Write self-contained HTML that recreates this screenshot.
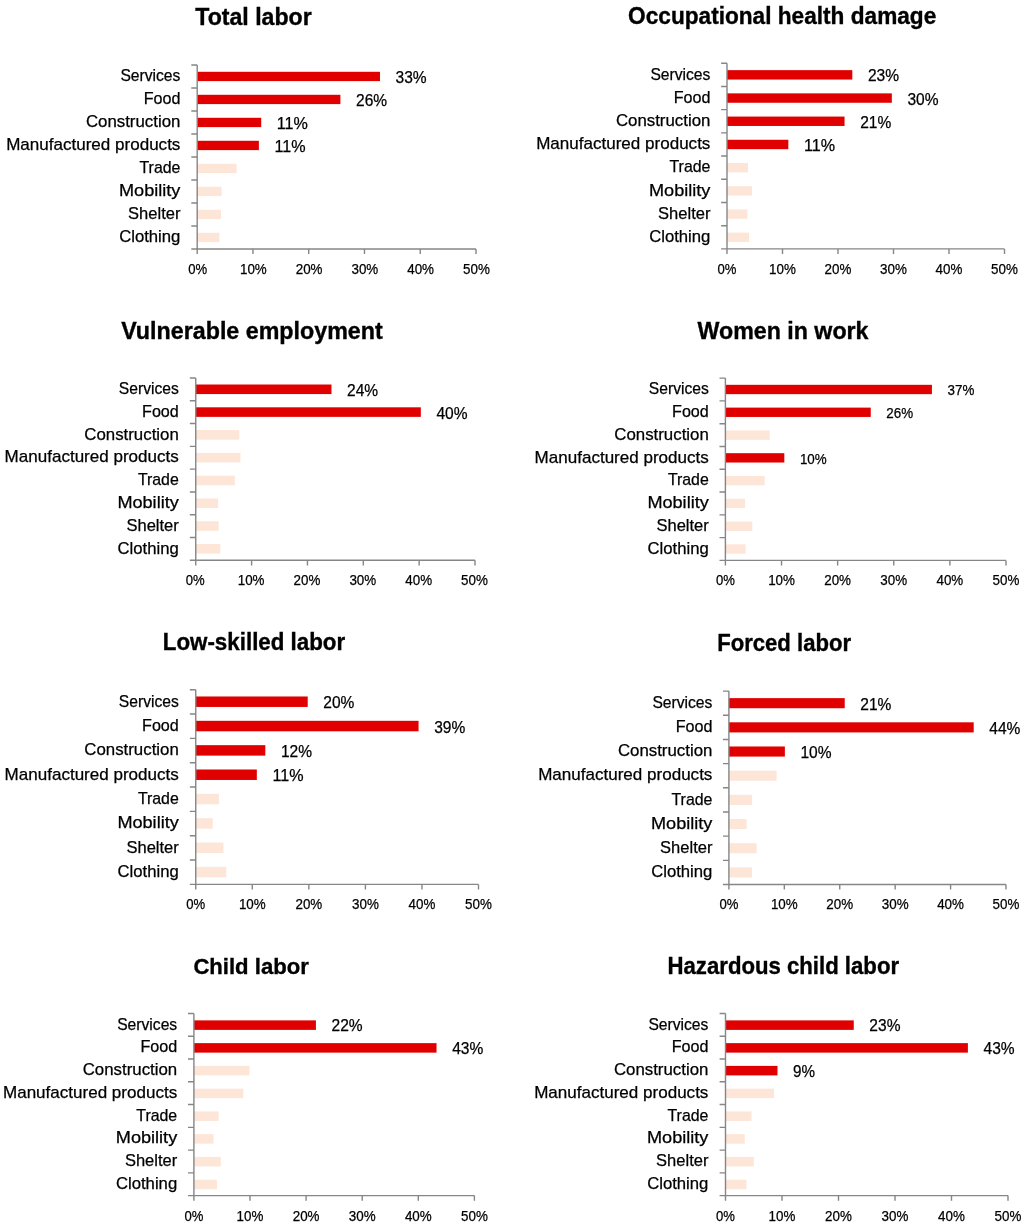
<!DOCTYPE html>
<html lang="en"><head><meta charset="utf-8"><title>Labor footprint by consumption category</title>
<style>
html,body{margin:0;padding:0;background:#fff}
body{width:1024px;height:1225px;overflow:hidden}
svg{display:block}
text{font-family:"Liberation Sans",sans-serif;fill:#000;stroke:#000;stroke-width:0.25px}
text.b{font-weight:bold;stroke:#000;stroke-width:0.35px}
</style></head><body>
<svg width="1024" height="1225" viewBox="0 0 1024 1225">
<rect width="1024" height="1225" fill="#fff"/>
<g><text class="b" x="253.50" y="25.30" font-size="23.52" text-anchor="middle" textLength="116.46" lengthAdjust="spacingAndGlyphs">Total labor</text>
<rect x="197.20" y="71.79" width="182.78" height="9.32" fill="#e00000"/>
<text class="r" x="180.40" y="81.17" font-size="16.20" text-anchor="end" textLength="60.01" lengthAdjust="spacingAndGlyphs">Services</text>
<text class="r" x="395.58" y="82.98" font-size="16.20" text-anchor="start" textLength="31.11" lengthAdjust="spacingAndGlyphs">33%</text>
<rect x="197.20" y="94.79" width="143.19" height="9.32" fill="#e00000"/>
<text class="r" x="180.40" y="104.17" font-size="16.20" text-anchor="end" textLength="36.76" lengthAdjust="spacingAndGlyphs">Food</text>
<text class="r" x="355.99" y="105.98" font-size="16.20" text-anchor="start" textLength="31.11" lengthAdjust="spacingAndGlyphs">26%</text>
<rect x="197.20" y="117.79" width="64.01" height="9.32" fill="#e00000"/>
<text class="r" x="180.40" y="127.17" font-size="16.20" text-anchor="end" textLength="94.49" lengthAdjust="spacingAndGlyphs">Construction</text>
<text class="r" x="276.81" y="128.98" font-size="16.20" text-anchor="start" textLength="31.11" lengthAdjust="spacingAndGlyphs">11%</text>
<rect x="197.20" y="140.79" width="61.67" height="9.32" fill="#e00000"/>
<text class="r" x="180.40" y="150.17" font-size="16.20" text-anchor="end" textLength="174.22" lengthAdjust="spacingAndGlyphs">Manufactured products</text>
<text class="r" x="274.47" y="151.98" font-size="16.20" text-anchor="start" textLength="31.11" lengthAdjust="spacingAndGlyphs">11%</text>
<rect x="197.20" y="163.79" width="39.42" height="9.32" fill="#fde5d8"/>
<text class="r" x="180.40" y="173.17" font-size="16.20" text-anchor="end" textLength="40.92" lengthAdjust="spacingAndGlyphs">Trade</text>
<rect x="197.20" y="186.79" width="24.42" height="9.32" fill="#fde5d8"/>
<text class="r" x="180.40" y="196.17" font-size="16.20" text-anchor="end" textLength="61.40" lengthAdjust="spacingAndGlyphs">Mobility</text>
<rect x="197.20" y="209.79" width="23.81" height="9.32" fill="#fde5d8"/>
<text class="r" x="180.40" y="219.17" font-size="16.20" text-anchor="end" textLength="52.30" lengthAdjust="spacingAndGlyphs">Shelter</text>
<rect x="197.20" y="232.79" width="22.19" height="9.32" fill="#fde5d8"/>
<text class="r" x="180.40" y="242.17" font-size="16.20" text-anchor="end" textLength="61.25" lengthAdjust="spacingAndGlyphs">Clothing</text>
<path d="M197.20 64.95V248.95H476.00M191.30 64.95H197.20M191.30 87.95H197.20M191.30 110.95H197.20M191.30 133.95H197.20M191.30 156.95H197.20M191.30 179.95H197.20M191.30 202.95H197.20M191.30 225.95H197.20M191.30 248.95H197.20M197.20 248.95V254.05M252.96 248.95V254.05M308.72 248.95V254.05M364.48 248.95V254.05M420.24 248.95V254.05M476.00 248.95V254.05" stroke="#868686" stroke-width="1.4" fill="none"/>
<text class="r" x="197.60" y="273.85" font-size="14.26" text-anchor="middle" textLength="18.94" lengthAdjust="spacingAndGlyphs">0%</text>
<text class="r" x="253.36" y="273.85" font-size="14.26" text-anchor="middle" textLength="26.79" lengthAdjust="spacingAndGlyphs">10%</text>
<text class="r" x="309.12" y="273.85" font-size="14.26" text-anchor="middle" textLength="26.79" lengthAdjust="spacingAndGlyphs">20%</text>
<text class="r" x="364.88" y="273.85" font-size="14.26" text-anchor="middle" textLength="26.79" lengthAdjust="spacingAndGlyphs">30%</text>
<text class="r" x="420.64" y="273.85" font-size="14.26" text-anchor="middle" textLength="26.79" lengthAdjust="spacingAndGlyphs">40%</text>
<text class="r" x="476.40" y="273.85" font-size="14.26" text-anchor="middle" textLength="26.79" lengthAdjust="spacingAndGlyphs">50%</text></g>
<g><text class="b" x="782.20" y="23.85" font-size="23.13" text-anchor="middle" textLength="308.18" lengthAdjust="spacingAndGlyphs">Occupational health damage</text>
<rect x="727.00" y="70.15" width="125.32" height="9.4" fill="#e00000"/>
<text class="r" x="710.40" y="79.57" font-size="16.20" text-anchor="end" textLength="60.01" lengthAdjust="spacingAndGlyphs">Services</text>
<text class="r" x="867.92" y="81.38" font-size="16.20" text-anchor="start" textLength="31.11" lengthAdjust="spacingAndGlyphs">23%</text>
<rect x="727.00" y="93.36" width="164.83" height="9.4" fill="#e00000"/>
<text class="r" x="710.40" y="102.78" font-size="16.20" text-anchor="end" textLength="36.76" lengthAdjust="spacingAndGlyphs">Food</text>
<text class="r" x="907.44" y="104.59" font-size="16.20" text-anchor="start" textLength="31.11" lengthAdjust="spacingAndGlyphs">30%</text>
<rect x="727.00" y="116.57" width="117.55" height="9.4" fill="#e00000"/>
<text class="r" x="710.40" y="125.98" font-size="16.20" text-anchor="end" textLength="94.49" lengthAdjust="spacingAndGlyphs">Construction</text>
<text class="r" x="860.15" y="127.80" font-size="16.20" text-anchor="start" textLength="31.11" lengthAdjust="spacingAndGlyphs">21%</text>
<rect x="727.00" y="139.77" width="61.33" height="9.4" fill="#e00000"/>
<text class="r" x="710.40" y="149.19" font-size="16.20" text-anchor="end" textLength="174.22" lengthAdjust="spacingAndGlyphs">Manufactured products</text>
<text class="r" x="803.93" y="151.00" font-size="16.20" text-anchor="start" textLength="31.11" lengthAdjust="spacingAndGlyphs">11%</text>
<rect x="727.00" y="162.98" width="20.98" height="9.4" fill="#fde5d8"/>
<text class="r" x="710.40" y="172.39" font-size="16.20" text-anchor="end" textLength="40.92" lengthAdjust="spacingAndGlyphs">Trade</text>
<rect x="727.00" y="186.18" width="24.97" height="9.4" fill="#fde5d8"/>
<text class="r" x="710.40" y="195.60" font-size="16.20" text-anchor="end" textLength="61.40" lengthAdjust="spacingAndGlyphs">Mobility</text>
<rect x="727.00" y="209.39" width="20.42" height="9.4" fill="#fde5d8"/>
<text class="r" x="710.40" y="218.81" font-size="16.20" text-anchor="end" textLength="52.30" lengthAdjust="spacingAndGlyphs">Shelter</text>
<rect x="727.00" y="232.60" width="22.14" height="9.4" fill="#fde5d8"/>
<text class="r" x="710.40" y="242.01" font-size="16.20" text-anchor="end" textLength="61.25" lengthAdjust="spacingAndGlyphs">Clothing</text>
<path d="M727.00 63.25V248.90H1004.50M721.10 63.25H727.00M721.10 86.46H727.00M721.10 109.66H727.00M721.10 132.87H727.00M721.10 156.07H727.00M721.10 179.28H727.00M721.10 202.49H727.00M721.10 225.69H727.00M721.10 248.90H727.00M727.00 248.90V254.00M782.50 248.90V254.00M838.00 248.90V254.00M893.50 248.90V254.00M949.00 248.90V254.00M1004.50 248.90V254.00" stroke="#868686" stroke-width="1.4" fill="none"/>
<text class="r" x="727.00" y="273.90" font-size="14.26" text-anchor="middle" textLength="18.94" lengthAdjust="spacingAndGlyphs">0%</text>
<text class="r" x="782.50" y="273.90" font-size="14.26" text-anchor="middle" textLength="26.79" lengthAdjust="spacingAndGlyphs">10%</text>
<text class="r" x="838.00" y="273.90" font-size="14.26" text-anchor="middle" textLength="26.79" lengthAdjust="spacingAndGlyphs">20%</text>
<text class="r" x="893.50" y="273.90" font-size="14.26" text-anchor="middle" textLength="26.79" lengthAdjust="spacingAndGlyphs">30%</text>
<text class="r" x="949.00" y="273.90" font-size="14.26" text-anchor="middle" textLength="26.79" lengthAdjust="spacingAndGlyphs">40%</text>
<text class="r" x="1004.50" y="273.90" font-size="14.26" text-anchor="middle" textLength="26.79" lengthAdjust="spacingAndGlyphs">50%</text></g>
<g><text class="b" x="252.00" y="338.65" font-size="23.29" text-anchor="middle" textLength="261.55" lengthAdjust="spacingAndGlyphs">Vulnerable employment</text>
<rect x="195.75" y="384.51" width="135.72" height="9.57" fill="#e00000"/>
<text class="r" x="178.80" y="394.11" font-size="16.20" text-anchor="end" textLength="60.01" lengthAdjust="spacingAndGlyphs">Services</text>
<text class="r" x="347.07" y="395.92" font-size="16.20" text-anchor="start" textLength="31.11" lengthAdjust="spacingAndGlyphs">24%</text>
<rect x="195.75" y="407.30" width="225.08" height="9.57" fill="#e00000"/>
<text class="r" x="178.80" y="416.90" font-size="16.20" text-anchor="end" textLength="36.76" lengthAdjust="spacingAndGlyphs">Food</text>
<text class="r" x="436.43" y="418.71" font-size="16.20" text-anchor="start" textLength="31.11" lengthAdjust="spacingAndGlyphs">40%</text>
<rect x="195.75" y="430.08" width="43.56" height="9.57" fill="#fde5d8"/>
<text class="r" x="178.80" y="439.68" font-size="16.20" text-anchor="end" textLength="94.49" lengthAdjust="spacingAndGlyphs">Construction</text>
<rect x="195.75" y="452.87" width="44.68" height="9.57" fill="#fde5d8"/>
<text class="r" x="178.80" y="462.47" font-size="16.20" text-anchor="end" textLength="174.22" lengthAdjust="spacingAndGlyphs">Manufactured products</text>
<rect x="195.75" y="475.66" width="39.09" height="9.57" fill="#fde5d8"/>
<text class="r" x="178.80" y="485.26" font-size="16.20" text-anchor="end" textLength="40.92" lengthAdjust="spacingAndGlyphs">Trade</text>
<rect x="195.75" y="498.45" width="22.34" height="9.57" fill="#fde5d8"/>
<text class="r" x="178.80" y="508.05" font-size="16.20" text-anchor="end" textLength="61.40" lengthAdjust="spacingAndGlyphs">Mobility</text>
<rect x="195.75" y="521.23" width="22.90" height="9.57" fill="#fde5d8"/>
<text class="r" x="178.80" y="530.83" font-size="16.20" text-anchor="end" textLength="52.30" lengthAdjust="spacingAndGlyphs">Shelter</text>
<rect x="195.75" y="544.02" width="24.57" height="9.57" fill="#fde5d8"/>
<text class="r" x="178.80" y="553.62" font-size="16.20" text-anchor="end" textLength="61.25" lengthAdjust="spacingAndGlyphs">Clothing</text>
<path d="M195.75 378.00V560.30H475.00M189.85 378.00H195.75M189.85 400.79H195.75M189.85 423.57H195.75M189.85 446.36H195.75M189.85 469.15H195.75M189.85 491.94H195.75M189.85 514.72H195.75M189.85 537.51H195.75M189.85 560.30H195.75M195.75 560.30V565.40M251.60 560.30V565.40M307.45 560.30V565.40M363.30 560.30V565.40M419.15 560.30V565.40M475.00 560.30V565.40" stroke="#868686" stroke-width="1.4" fill="none"/>
<text class="r" x="195.25" y="585.20" font-size="14.26" text-anchor="middle" textLength="18.94" lengthAdjust="spacingAndGlyphs">0%</text>
<text class="r" x="251.10" y="585.20" font-size="14.26" text-anchor="middle" textLength="26.79" lengthAdjust="spacingAndGlyphs">10%</text>
<text class="r" x="306.95" y="585.20" font-size="14.26" text-anchor="middle" textLength="26.79" lengthAdjust="spacingAndGlyphs">20%</text>
<text class="r" x="362.80" y="585.20" font-size="14.26" text-anchor="middle" textLength="26.79" lengthAdjust="spacingAndGlyphs">30%</text>
<text class="r" x="418.65" y="585.20" font-size="14.26" text-anchor="middle" textLength="26.79" lengthAdjust="spacingAndGlyphs">40%</text>
<text class="r" x="474.50" y="585.20" font-size="14.26" text-anchor="middle" textLength="26.79" lengthAdjust="spacingAndGlyphs">50%</text></g>
<g><text class="b" x="783.00" y="338.65" font-size="23.11" text-anchor="middle" textLength="170.98" lengthAdjust="spacingAndGlyphs">Women in work</text>
<rect x="725.40" y="384.82" width="206.52" height="9.34" fill="#e00000"/>
<text class="r" x="708.80" y="394.21" font-size="16.20" text-anchor="end" textLength="60.01" lengthAdjust="spacingAndGlyphs">Services</text>
<text class="r" x="947.52" y="395.19" font-size="13.95" text-anchor="start" textLength="26.79" lengthAdjust="spacingAndGlyphs">37%</text>
<rect x="725.40" y="407.61" width="145.35" height="9.34" fill="#e00000"/>
<text class="r" x="708.80" y="417.00" font-size="16.20" text-anchor="end" textLength="36.76" lengthAdjust="spacingAndGlyphs">Food</text>
<text class="r" x="886.35" y="417.97" font-size="13.95" text-anchor="start" textLength="26.79" lengthAdjust="spacingAndGlyphs">26%</text>
<rect x="725.40" y="430.40" width="44.33" height="9.34" fill="#fde5d8"/>
<text class="r" x="708.80" y="439.78" font-size="16.20" text-anchor="end" textLength="94.49" lengthAdjust="spacingAndGlyphs">Construction</text>
<rect x="725.40" y="453.19" width="58.93" height="9.34" fill="#e00000"/>
<text class="r" x="708.80" y="462.57" font-size="16.20" text-anchor="end" textLength="174.22" lengthAdjust="spacingAndGlyphs">Manufactured products</text>
<text class="r" x="799.93" y="463.55" font-size="13.95" text-anchor="start" textLength="26.79" lengthAdjust="spacingAndGlyphs">10%</text>
<rect x="725.40" y="475.97" width="39.28" height="9.34" fill="#fde5d8"/>
<text class="r" x="708.80" y="485.36" font-size="16.20" text-anchor="end" textLength="40.92" lengthAdjust="spacingAndGlyphs">Trade</text>
<rect x="725.40" y="498.76" width="19.64" height="9.34" fill="#fde5d8"/>
<text class="r" x="708.80" y="508.15" font-size="16.20" text-anchor="end" textLength="61.40" lengthAdjust="spacingAndGlyphs">Mobility</text>
<rect x="725.40" y="521.55" width="26.94" height="9.34" fill="#fde5d8"/>
<text class="r" x="708.80" y="530.93" font-size="16.20" text-anchor="end" textLength="52.30" lengthAdjust="spacingAndGlyphs">Shelter</text>
<rect x="725.40" y="544.34" width="20.20" height="9.34" fill="#fde5d8"/>
<text class="r" x="708.80" y="553.72" font-size="16.20" text-anchor="end" textLength="61.25" lengthAdjust="spacingAndGlyphs">Clothing</text>
<path d="M725.40 378.10V560.40H1006.00M719.50 378.10H725.40M719.50 400.89H725.40M719.50 423.68H725.40M719.50 446.46H725.40M719.50 469.25H725.40M719.50 492.04H725.40M719.50 514.83H725.40M719.50 537.61H725.40M719.50 560.40H725.40M725.40 560.40V565.50M781.52 560.40V565.50M837.64 560.40V565.50M893.76 560.40V565.50M949.88 560.40V565.50M1006.00 560.40V565.50" stroke="#868686" stroke-width="1.4" fill="none"/>
<text class="r" x="725.40" y="585.30" font-size="14.26" text-anchor="middle" textLength="18.94" lengthAdjust="spacingAndGlyphs">0%</text>
<text class="r" x="781.52" y="585.30" font-size="14.26" text-anchor="middle" textLength="26.79" lengthAdjust="spacingAndGlyphs">10%</text>
<text class="r" x="837.64" y="585.30" font-size="14.26" text-anchor="middle" textLength="26.79" lengthAdjust="spacingAndGlyphs">20%</text>
<text class="r" x="893.76" y="585.30" font-size="14.26" text-anchor="middle" textLength="26.79" lengthAdjust="spacingAndGlyphs">30%</text>
<text class="r" x="949.88" y="585.30" font-size="14.26" text-anchor="middle" textLength="26.79" lengthAdjust="spacingAndGlyphs">40%</text>
<text class="r" x="1006.00" y="585.30" font-size="14.26" text-anchor="middle" textLength="26.79" lengthAdjust="spacingAndGlyphs">50%</text></g>
<g><text class="b" x="254.00" y="650.10" font-size="23.15" text-anchor="middle" textLength="182.42" lengthAdjust="spacingAndGlyphs">Low-skilled labor</text>
<rect x="195.75" y="696.48" width="111.97" height="10.47" fill="#e00000"/>
<text class="r" x="178.80" y="706.58" font-size="16.20" text-anchor="end" textLength="60.01" lengthAdjust="spacingAndGlyphs">Services</text>
<text class="r" x="323.32" y="708.40" font-size="16.20" text-anchor="start" textLength="31.11" lengthAdjust="spacingAndGlyphs">20%</text>
<rect x="195.75" y="720.82" width="222.81" height="10.47" fill="#e00000"/>
<text class="r" x="178.80" y="730.92" font-size="16.20" text-anchor="end" textLength="36.76" lengthAdjust="spacingAndGlyphs">Food</text>
<text class="r" x="434.16" y="732.74" font-size="16.20" text-anchor="start" textLength="31.11" lengthAdjust="spacingAndGlyphs">39%</text>
<rect x="195.75" y="745.16" width="69.56" height="10.47" fill="#e00000"/>
<text class="r" x="178.80" y="755.26" font-size="16.20" text-anchor="end" textLength="94.49" lengthAdjust="spacingAndGlyphs">Construction</text>
<text class="r" x="280.91" y="757.07" font-size="16.20" text-anchor="start" textLength="31.11" lengthAdjust="spacingAndGlyphs">12%</text>
<rect x="195.75" y="769.50" width="61.07" height="10.47" fill="#e00000"/>
<text class="r" x="178.80" y="779.60" font-size="16.20" text-anchor="end" textLength="174.22" lengthAdjust="spacingAndGlyphs">Manufactured products</text>
<text class="r" x="272.42" y="781.41" font-size="16.20" text-anchor="start" textLength="31.11" lengthAdjust="spacingAndGlyphs">11%</text>
<rect x="195.75" y="793.83" width="23.19" height="10.47" fill="#fde5d8"/>
<text class="r" x="178.80" y="803.93" font-size="16.20" text-anchor="end" textLength="40.92" lengthAdjust="spacingAndGlyphs">Trade</text>
<rect x="195.75" y="818.17" width="16.96" height="10.47" fill="#fde5d8"/>
<text class="r" x="178.80" y="828.27" font-size="16.20" text-anchor="end" textLength="61.40" lengthAdjust="spacingAndGlyphs">Mobility</text>
<rect x="195.75" y="842.51" width="27.71" height="10.47" fill="#fde5d8"/>
<text class="r" x="178.80" y="852.61" font-size="16.20" text-anchor="end" textLength="52.30" lengthAdjust="spacingAndGlyphs">Shelter</text>
<rect x="195.75" y="866.85" width="30.54" height="10.47" fill="#fde5d8"/>
<text class="r" x="178.80" y="876.95" font-size="16.20" text-anchor="end" textLength="61.25" lengthAdjust="spacingAndGlyphs">Clothing</text>
<path d="M195.75 689.70V884.40H478.50M189.85 689.70H195.75M189.85 714.04H195.75M189.85 738.38H195.75M189.85 762.71H195.75M189.85 787.05H195.75M189.85 811.39H195.75M189.85 835.73H195.75M189.85 860.06H195.75M189.85 884.40H195.75M195.75 884.40V889.50M252.30 884.40V889.50M308.85 884.40V889.50M365.40 884.40V889.50M421.95 884.40V889.50M478.50 884.40V889.50" stroke="#868686" stroke-width="1.4" fill="none"/>
<text class="r" x="195.75" y="908.80" font-size="14.26" text-anchor="middle" textLength="18.94" lengthAdjust="spacingAndGlyphs">0%</text>
<text class="r" x="252.30" y="908.80" font-size="14.26" text-anchor="middle" textLength="26.79" lengthAdjust="spacingAndGlyphs">10%</text>
<text class="r" x="308.85" y="908.80" font-size="14.26" text-anchor="middle" textLength="26.79" lengthAdjust="spacingAndGlyphs">20%</text>
<text class="r" x="365.40" y="908.80" font-size="14.26" text-anchor="middle" textLength="26.79" lengthAdjust="spacingAndGlyphs">30%</text>
<text class="r" x="421.95" y="908.80" font-size="14.26" text-anchor="middle" textLength="26.79" lengthAdjust="spacingAndGlyphs">40%</text>
<text class="r" x="478.50" y="908.80" font-size="14.26" text-anchor="middle" textLength="26.79" lengthAdjust="spacingAndGlyphs">50%</text></g>
<g><text class="b" x="784.10" y="651.35" font-size="23.06" text-anchor="middle" textLength="133.85" lengthAdjust="spacingAndGlyphs">Forced labor</text>
<rect x="728.90" y="698.13" width="115.83" height="10.11" fill="#e00000"/>
<text class="r" x="712.40" y="707.90" font-size="16.20" text-anchor="end" textLength="60.01" lengthAdjust="spacingAndGlyphs">Services</text>
<text class="r" x="860.33" y="709.72" font-size="16.20" text-anchor="start" textLength="31.11" lengthAdjust="spacingAndGlyphs">21%</text>
<rect x="728.90" y="722.31" width="244.79" height="10.11" fill="#e00000"/>
<text class="r" x="712.40" y="732.08" font-size="16.20" text-anchor="end" textLength="36.76" lengthAdjust="spacingAndGlyphs">Food</text>
<text class="r" x="989.29" y="733.89" font-size="16.20" text-anchor="start" textLength="31.11" lengthAdjust="spacingAndGlyphs">44%</text>
<rect x="728.90" y="746.48" width="55.97" height="10.11" fill="#e00000"/>
<text class="r" x="712.40" y="756.25" font-size="16.20" text-anchor="end" textLength="94.49" lengthAdjust="spacingAndGlyphs">Construction</text>
<text class="r" x="800.47" y="758.07" font-size="16.20" text-anchor="start" textLength="31.11" lengthAdjust="spacingAndGlyphs">10%</text>
<rect x="728.90" y="770.66" width="47.66" height="10.11" fill="#fde5d8"/>
<text class="r" x="712.40" y="780.43" font-size="16.20" text-anchor="end" textLength="174.22" lengthAdjust="spacingAndGlyphs">Manufactured products</text>
<rect x="728.90" y="794.83" width="23.28" height="10.11" fill="#fde5d8"/>
<text class="r" x="712.40" y="804.60" font-size="16.20" text-anchor="end" textLength="40.92" lengthAdjust="spacingAndGlyphs">Trade</text>
<rect x="728.90" y="819.01" width="17.73" height="10.11" fill="#fde5d8"/>
<text class="r" x="712.40" y="828.78" font-size="16.20" text-anchor="end" textLength="61.40" lengthAdjust="spacingAndGlyphs">Mobility</text>
<rect x="728.90" y="843.18" width="27.71" height="10.11" fill="#fde5d8"/>
<text class="r" x="712.40" y="852.95" font-size="16.20" text-anchor="end" textLength="52.30" lengthAdjust="spacingAndGlyphs">Shelter</text>
<rect x="728.90" y="867.36" width="23.05" height="10.11" fill="#fde5d8"/>
<text class="r" x="712.40" y="877.13" font-size="16.20" text-anchor="end" textLength="61.25" lengthAdjust="spacingAndGlyphs">Clothing</text>
<path d="M728.90 691.10V884.50H1006.00M723.00 691.10H728.90M723.00 715.27H728.90M723.00 739.45H728.90M723.00 763.62H728.90M723.00 787.80H728.90M723.00 811.98H728.90M723.00 836.15H728.90M723.00 860.33H728.90M723.00 884.50H728.90M728.90 884.50V889.60M784.32 884.50V889.60M839.74 884.50V889.60M895.16 884.50V889.60M950.58 884.50V889.60M1006.00 884.50V889.60" stroke="#868686" stroke-width="1.4" fill="none"/>
<text class="r" x="728.90" y="908.70" font-size="14.26" text-anchor="middle" textLength="18.94" lengthAdjust="spacingAndGlyphs">0%</text>
<text class="r" x="784.32" y="908.70" font-size="14.26" text-anchor="middle" textLength="26.79" lengthAdjust="spacingAndGlyphs">10%</text>
<text class="r" x="839.74" y="908.70" font-size="14.26" text-anchor="middle" textLength="26.79" lengthAdjust="spacingAndGlyphs">20%</text>
<text class="r" x="895.16" y="908.70" font-size="14.26" text-anchor="middle" textLength="26.79" lengthAdjust="spacingAndGlyphs">30%</text>
<text class="r" x="950.58" y="908.70" font-size="14.26" text-anchor="middle" textLength="26.79" lengthAdjust="spacingAndGlyphs">40%</text>
<text class="r" x="1006.00" y="908.70" font-size="14.26" text-anchor="middle" textLength="26.79" lengthAdjust="spacingAndGlyphs">50%</text></g>
<g><text class="b" x="251.10" y="974.10" font-size="22.94" text-anchor="middle" textLength="115.42" lengthAdjust="spacingAndGlyphs">Child labor</text>
<rect x="193.90" y="1020.37" width="122.02" height="9.51" fill="#e00000"/>
<text class="r" x="177.20" y="1029.64" font-size="16.20" text-anchor="end" textLength="60.01" lengthAdjust="spacingAndGlyphs">Services</text>
<text class="r" x="331.52" y="1031.46" font-size="16.20" text-anchor="start" textLength="31.11" lengthAdjust="spacingAndGlyphs">22%</text>
<rect x="193.90" y="1043.13" width="242.63" height="9.51" fill="#e00000"/>
<text class="r" x="177.20" y="1052.40" font-size="16.20" text-anchor="end" textLength="36.76" lengthAdjust="spacingAndGlyphs">Food</text>
<text class="r" x="452.13" y="1054.21" font-size="16.20" text-anchor="start" textLength="31.11" lengthAdjust="spacingAndGlyphs">43%</text>
<rect x="193.90" y="1065.89" width="55.54" height="9.51" fill="#fde5d8"/>
<text class="r" x="177.20" y="1075.16" font-size="16.20" text-anchor="end" textLength="94.49" lengthAdjust="spacingAndGlyphs">Construction</text>
<rect x="193.90" y="1088.64" width="49.37" height="9.51" fill="#fde5d8"/>
<text class="r" x="177.20" y="1097.91" font-size="16.20" text-anchor="end" textLength="174.22" lengthAdjust="spacingAndGlyphs">Manufactured products</text>
<rect x="193.90" y="1111.40" width="24.68" height="9.51" fill="#fde5d8"/>
<text class="r" x="177.20" y="1120.67" font-size="16.20" text-anchor="end" textLength="40.92" lengthAdjust="spacingAndGlyphs">Trade</text>
<rect x="193.90" y="1134.15" width="19.64" height="9.51" fill="#fde5d8"/>
<text class="r" x="177.20" y="1143.43" font-size="16.20" text-anchor="end" textLength="61.40" lengthAdjust="spacingAndGlyphs">Mobility</text>
<rect x="193.90" y="1156.91" width="26.93" height="9.51" fill="#fde5d8"/>
<text class="r" x="177.20" y="1166.18" font-size="16.20" text-anchor="end" textLength="52.30" lengthAdjust="spacingAndGlyphs">Shelter</text>
<rect x="193.90" y="1179.67" width="23.00" height="9.51" fill="#fde5d8"/>
<text class="r" x="177.20" y="1188.94" font-size="16.20" text-anchor="end" textLength="61.25" lengthAdjust="spacingAndGlyphs">Clothing</text>
<path d="M193.90 1013.55V1195.60H474.40M188.00 1013.55H193.90M188.00 1036.31H193.90M188.00 1059.06H193.90M188.00 1081.82H193.90M188.00 1104.57H193.90M188.00 1127.33H193.90M188.00 1150.09H193.90M188.00 1172.84H193.90M188.00 1195.60H193.90M193.90 1195.60V1200.70M250.00 1195.60V1200.70M306.10 1195.60V1200.70M362.20 1195.60V1200.70M418.30 1195.60V1200.70M474.40 1195.60V1200.70" stroke="#868686" stroke-width="1.4" fill="none"/>
<text class="r" x="193.90" y="1220.70" font-size="14.26" text-anchor="middle" textLength="18.94" lengthAdjust="spacingAndGlyphs">0%</text>
<text class="r" x="250.00" y="1220.70" font-size="14.26" text-anchor="middle" textLength="26.79" lengthAdjust="spacingAndGlyphs">10%</text>
<text class="r" x="306.10" y="1220.70" font-size="14.26" text-anchor="middle" textLength="26.79" lengthAdjust="spacingAndGlyphs">20%</text>
<text class="r" x="362.20" y="1220.70" font-size="14.26" text-anchor="middle" textLength="26.79" lengthAdjust="spacingAndGlyphs">30%</text>
<text class="r" x="418.30" y="1220.70" font-size="14.26" text-anchor="middle" textLength="26.79" lengthAdjust="spacingAndGlyphs">40%</text>
<text class="r" x="474.40" y="1220.70" font-size="14.26" text-anchor="middle" textLength="26.79" lengthAdjust="spacingAndGlyphs">50%</text></g>
<g><text class="b" x="783.30" y="973.80" font-size="23.06" text-anchor="middle" textLength="231.56" lengthAdjust="spacingAndGlyphs">Hazardous child labor</text>
<rect x="725.50" y="1020.37" width="128.25" height="9.51" fill="#e00000"/>
<text class="r" x="708.40" y="1029.64" font-size="16.20" text-anchor="end" textLength="60.01" lengthAdjust="spacingAndGlyphs">Services</text>
<text class="r" x="869.36" y="1031.46" font-size="16.20" text-anchor="start" textLength="31.11" lengthAdjust="spacingAndGlyphs">23%</text>
<rect x="725.50" y="1043.13" width="242.39" height="9.51" fill="#e00000"/>
<text class="r" x="708.40" y="1052.40" font-size="16.20" text-anchor="end" textLength="36.76" lengthAdjust="spacingAndGlyphs">Food</text>
<text class="r" x="983.49" y="1054.21" font-size="16.20" text-anchor="start" textLength="31.11" lengthAdjust="spacingAndGlyphs">43%</text>
<rect x="725.50" y="1065.89" width="51.98" height="9.51" fill="#e00000"/>
<text class="r" x="708.40" y="1075.16" font-size="16.20" text-anchor="end" textLength="94.49" lengthAdjust="spacingAndGlyphs">Construction</text>
<text class="r" x="793.08" y="1076.97" font-size="16.20" text-anchor="start" textLength="21.99" lengthAdjust="spacingAndGlyphs">9%</text>
<rect x="725.50" y="1088.64" width="48.59" height="9.51" fill="#fde5d8"/>
<text class="r" x="708.40" y="1097.91" font-size="16.20" text-anchor="end" textLength="174.22" lengthAdjust="spacingAndGlyphs">Manufactured products</text>
<rect x="725.50" y="1111.40" width="25.99" height="9.51" fill="#fde5d8"/>
<text class="r" x="708.40" y="1120.67" font-size="16.20" text-anchor="end" textLength="40.92" lengthAdjust="spacingAndGlyphs">Trade</text>
<rect x="725.50" y="1134.15" width="19.21" height="9.51" fill="#fde5d8"/>
<text class="r" x="708.40" y="1143.43" font-size="16.20" text-anchor="end" textLength="61.40" lengthAdjust="spacingAndGlyphs">Mobility</text>
<rect x="725.50" y="1156.91" width="28.25" height="9.51" fill="#fde5d8"/>
<text class="r" x="708.40" y="1166.18" font-size="16.20" text-anchor="end" textLength="52.30" lengthAdjust="spacingAndGlyphs">Shelter</text>
<rect x="725.50" y="1179.67" width="20.91" height="9.51" fill="#fde5d8"/>
<text class="r" x="708.40" y="1188.94" font-size="16.20" text-anchor="end" textLength="61.25" lengthAdjust="spacingAndGlyphs">Clothing</text>
<path d="M725.50 1013.55V1195.60H1008.00M719.60 1013.55H725.50M719.60 1036.31H725.50M719.60 1059.06H725.50M719.60 1081.82H725.50M719.60 1104.57H725.50M719.60 1127.33H725.50M719.60 1150.09H725.50M719.60 1172.84H725.50M719.60 1195.60H725.50M725.50 1195.60V1200.70M782.00 1195.60V1200.70M838.50 1195.60V1200.70M895.00 1195.60V1200.70M951.50 1195.60V1200.70M1008.00 1195.60V1200.70" stroke="#868686" stroke-width="1.4" fill="none"/>
<text class="r" x="725.50" y="1220.50" font-size="14.26" text-anchor="middle" textLength="18.94" lengthAdjust="spacingAndGlyphs">0%</text>
<text class="r" x="782.00" y="1220.50" font-size="14.26" text-anchor="middle" textLength="26.79" lengthAdjust="spacingAndGlyphs">10%</text>
<text class="r" x="838.50" y="1220.50" font-size="14.26" text-anchor="middle" textLength="26.79" lengthAdjust="spacingAndGlyphs">20%</text>
<text class="r" x="895.00" y="1220.50" font-size="14.26" text-anchor="middle" textLength="26.79" lengthAdjust="spacingAndGlyphs">30%</text>
<text class="r" x="951.50" y="1220.50" font-size="14.26" text-anchor="middle" textLength="26.79" lengthAdjust="spacingAndGlyphs">40%</text>
<text class="r" x="1008.00" y="1220.50" font-size="14.26" text-anchor="middle" textLength="26.79" lengthAdjust="spacingAndGlyphs">50%</text></g>
</svg>
</body></html>
